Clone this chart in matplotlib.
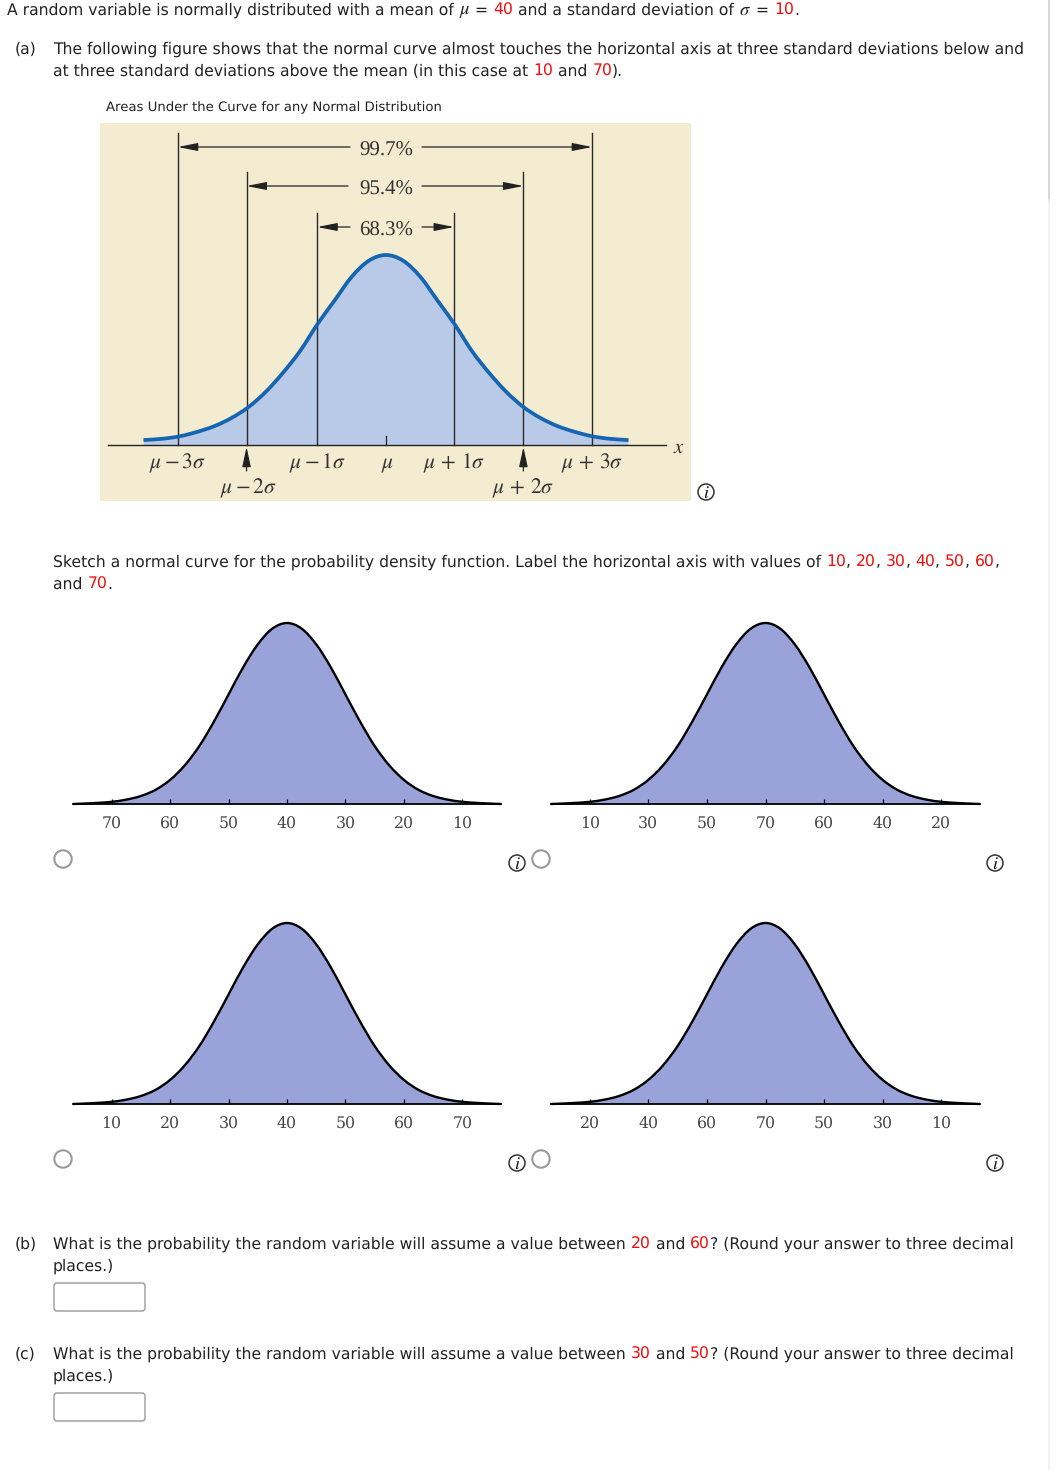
import matplotlib
matplotlib.use('Agg')
import matplotlib.pyplot as plt
from matplotlib.patches import Circle, FancyBboxPatch, PathPatch
from matplotlib.path import Path

W, H = 1062, 1470
plt.rcParams['mathtext.fontset'] = 'stix'
plt.rcParams['font.family'] = ['DejaVu Sans']
plt.rcParams['text.hinting'] = 'none'
plt.rcParams['text.hinting_factor'] = 8

# curve heights, as a share of the peak
fig_z = [-3.53, -3.25, -3.0, -2.75, -2.5, -2.25, -2.0, -1.75, -1.5, -1.25, -1.0, -0.75, -0.5, -0.25, 0.0,
         0.25, 0.5, 0.75, 1.0, 1.25, 1.5, 1.75, 2.0, 2.25, 2.5, 2.75, 3.0, 3.25, 3.53]
fig_h = [0.026, 0.033, 0.046, 0.069, 0.099, 0.142, 0.2, 0.28, 0.38, 0.495, 0.635, 0.76, 0.885, 0.97, 1.0,
         0.97, 0.885, 0.76, 0.635, 0.495, 0.38, 0.28, 0.2, 0.142, 0.099, 0.069, 0.046, 0.033, 0.026]

panel_z = [-3.66, -3.5, -3.25, -3.0, -2.75, -2.5, -2.25, -2.0, -1.75, -1.5, -1.25, -1.0, -0.75, -0.5, -0.25, 0.0,
           0.25, 0.5, 0.75, 1.0, 1.25, 1.5, 1.75, 2.0, 2.25, 2.5, 2.75, 3.0, 3.25, 3.5, 3.66]
panel_h = [0.0, 0.002, 0.006, 0.012, 0.024, 0.044, 0.078, 0.133, 0.213, 0.32, 0.455, 0.605, 0.755, 0.882, 0.969, 1.0,
           0.969, 0.882, 0.755, 0.605, 0.455, 0.32, 0.213, 0.133, 0.078, 0.044, 0.024, 0.012, 0.006, 0.002, 0.0]

# sigma lines and labels of the textbook figure
sigma_z = [-3.03, -2.03, -1.0, 0.99, 2.0, 3.0]
sigma_labels = ['$\\mu - 3\\sigma$', '$\\mu - 2\\sigma$', '$\\mu - 1\\sigma$', '$\\mu$',
                '$\\mu\\,+\\,1\\sigma$', '$\\mu\\,+\\,2\\sigma$', '$\\mu\\,+\\,3\\sigma$']
pct_labels = ['99.7%', '95.4%', '68.3%']

tick_z = [-3, -2, -1, 0, 1, 2, 3]
panel_labels = [[70, 60, 50, 40, 30, 20, 10],
                [10, 30, 50, 70, 60, 40, 20],
                [10, 20, 30, 40, 50, 60, 70],
                [20, 40, 60, 70, 50, 30, 10]]

RED = '#f01010'
INK = '#222222'
MU = '$\\mu$'
SIG = '$\\sigma$'
LINE_A = 'The following figure shows that the normal curve almost touches the horizontal axis at three standard deviations below and'
TITLE = 'Areas Under the Curve for any Normal Distribution'

fig = plt.figure(figsize=(W / 100, H / 100), dpi=100)
page = fig.add_axes([0, 0, 1, 1])
page.set_xlim(0, W)
page.set_ylim(H, 0)
page.axis('off')


def box_axes(x0, y0, x1, y1):
    return fig.add_axes([x0 / W, 1 - y1 / H, (x1 - x0) / W, (y1 - y0) / H])


def curve_path(xs, ys, close=False):
    # hermite segments through the read points, so the line has no kinks
    n = len(xs)
    slope = [(ys[min(i + 1, n - 1)] - ys[max(i - 1, 0)]) / (xs[min(i + 1, n - 1)] - xs[max(i - 1, 0)]) for i in range(n)]
    verts = [(xs[0], ys[0])]
    codes = [Path.MOVETO]
    for i in range(n - 1):
        d = (xs[i + 1] - xs[i]) / 3
        verts += [(xs[i] + d, ys[i] + slope[i] * d), (xs[i + 1] - d, ys[i + 1] - slope[i + 1] * d), (xs[i + 1], ys[i + 1])]
        codes += [Path.CURVE4] * 3
    if close:
        verts += [(xs[-1], 0), (xs[0], 0), (xs[0], ys[0])]
        codes += [Path.LINETO, Path.LINETO, Path.CLOSEPOLY]
    return Path(verts, codes)


def fit_size(s, target, lo, hi):
    # text widths jump with the size, so look for the size that gives the width
    r = fig.canvas.get_renderer()
    best, best_err = lo, 1e9
    size = lo
    while size <= hi:
        t = page.text(0, 0, s, fontsize=size)
        err = abs(t.get_window_extent(r).width - target)
        t.remove()
        if err < best_err:
            best, best_err = size, err
        size += 0.01
    return best


BODY = fit_size(LINE_A, 968, 10.6, 11.4)
SMALL = fit_size(TITLE, 336, 9.2, 10.0)


def runs(x, y, parts, size=None):
    # lay out coloured pieces of one line one after the other
    size = size or BODY
    r = fig.canvas.get_renderer()
    dot = page.text(0, 0, '.', fontsize=size)
    dw = dot.get_window_extent(r).width
    dot.remove()
    for s, c in parts:
        fs = size * 1.2 if s.startswith('$') else size
        page.text(x, y, s, fontsize=fs, color=c, va='baseline', ha='left')
        if s.startswith('$'):
            probe = page.text(0, 0, s, fontsize=fs)
            x += probe.get_window_extent(r).width
        else:
            probe = page.text(0, 0, s + '.', fontsize=fs)
            x += probe.get_window_extent(r).width - dw
        probe.remove()


def info(x, y):
    page.add_patch(Circle((x, y), 8, fc='white', ec='#333333', lw=1.1))
    page.text(x, y + 0.5, '$i$', fontsize=13, ha='center', va='center', color='#111111')


def radio(x, y):
    page.add_patch(Circle((x, y), 8.7, fc='white', ec='#9a9a9a', lw=1.5))


def answer_box(x0, y0, x1, y1):
    page.add_patch(FancyBboxPatch((x0 + 3, y0 + 3), x1 - x0 - 6, y1 - y0 - 6, boxstyle='round,pad=3',
                                  fc='white', ec='#9a9a9a', lw=1.0))


# page text
runs(7, 14.5, [('A random variable is normally distributed with a mean of ', INK), (MU, INK), (' = ', INK), ('40', RED),
               (' and a standard deviation of ', INK), (SIG, INK), (' = ', INK), ('10', RED), ('.', INK)])
runs(15, 53.5, [('(a)', INK)])
runs(53, 53.5, [(LINE_A, INK)])
runs(53, 75.5, [('at three standard deviations above the mean (in this case at ', INK), ('10', RED), (' and ', INK), ('70', RED), (').', INK)])
runs(106, 111, [(TITLE, INK)], size=SMALL)
runs(53, 566.5, [('Sketch a normal curve for the probability density function. Label the horizontal axis with values of ', INK),
                 ('10', RED), (', ', INK), ('20', RED), (', ', INK), ('30', RED), (', ', INK), ('40', RED), (', ', INK),
                 ('50', RED), (', ', INK), ('60', RED), (',', INK)])
runs(53, 588.5, [('and ', INK), ('70', RED), ('.', INK)])
runs(15, 1248.5, [('(b)', INK)])
runs(53, 1248.5, [('What is the probability the random variable will assume a value between ', INK), ('20', RED), (' and ', INK),
                  ('60', RED), ('? (Round your answer to three decimal', INK)])
runs(53, 1270.5, [('places.)', INK)])
runs(15, 1358.5, [('(c)', INK)])
runs(53, 1358.5, [('What is the probability the random variable will assume a value between ', INK), ('30', RED), (' and ', INK),
                  ('50', RED), ('? (Round your answer to three decimal', INK)])
runs(53, 1380.5, [('places.)', INK)])
answer_box(54, 1283, 145, 1311)
answer_box(54, 1393, 145, 1421)

# scrollbar edge
page.plot([1049, 1049], [0, 200], color='#cfcfcf', lw=1.2)
page.plot([1049, 1049], [200, H], color='#efefef', lw=1.2)

# textbook figure, x in sigmas and y in shares of the peak
FX0, FX1, FY0, FY1 = 100, 691, 123, 501
CX, SX, AY, PK = 386.0, 68.7, 445.0, 190.0


def fx(px):
    return (px - CX) / SX


def fy(py):
    return (AY - py) / PK


ax = box_axes(FX0, FY0, FX1, FY1)
ax.set_xlim(fx(FX0), fx(FX1))
ax.set_ylim(fy(FY1), fy(FY0))
ax.set_facecolor('#f3ecd0')
ax.set_xticks([])
ax.set_yticks([])
for sp in ax.spines.values():
    sp.set_visible(False)
ax.add_patch(PathPatch(curve_path(fig_z, fig_h, close=True), fc='#b9c9e8', lw=0))
tops = [133, 172, 213, 213, 172, 133]
for z, top in zip(sigma_z, tops):
    ax.plot([z, z], [0, fy(top)], color='#2a2a2a', lw=1.0)
ax.plot([fx(108), fx(666)], [0, 0], color='#222222', lw=1.0)
ax.plot([0, 0], [0, fy(436)], color='#222222', lw=0.9)
ax.add_patch(PathPatch(curve_path(fig_z, fig_h), fc='none', ec='#1565b0', lw=2.7, capstyle='butt', zorder=3))

serif = 'Liberation Serif'
rows = [(147, 350, 422), (186, 348, 422), (227, 350, 422)]
for i, (lab, (py, xl, xr)) in enumerate(zip(pct_labels, rows)):
    ax.text(0, fy(py + 3.6), lab, family=serif, fontsize=15, color='#333333', ha='center', va='center')
    for start, end in ((xl, sigma_z[i]), (xr, sigma_z[5 - i])):
        ax.annotate('', xy=(end, fy(py)), xytext=(fx(start), fy(py)),
                    arrowprops=dict(arrowstyle='-|>,head_length=1.2,head_width=0.24', color='#222222', lw=0.9,
                                    shrinkA=0, shrinkB=0))
for z in (sigma_z[1], sigma_z[4]):
    ax.annotate('', xy=(z, fy(447)), xytext=(z, fy(471)),
                arrowprops=dict(arrowstyle='-|>,head_length=1.2,head_width=0.26', color='#222222', lw=0.9,
                                shrinkA=0, shrinkB=0))
label_pos = [(-3.03, 463), (-2.0, 488), (-1.0, 463), (0.02, 463), (0.99, 463), (2.0, 488), (3.0, 463)]
for lab, (z, py) in zip(sigma_labels, label_pos):
    ax.text(z, fy(py), lab, fontsize=15.5, color='#333333', ha='center', va='center')
ax.text(fx(679), fy(447), '$x$', fontsize=15, color='#333333', ha='center', va='center')
info(706, 492)

# four answer choices
boxes = [(73, 501, 804), (551, 980, 804), (73, 501, 1104), (551, 980, 1104)]
radios = [(63, 859), (541, 859), (63, 1159), (541, 1159)]
infos = [(517, 863), (995, 863), (517, 1163), (995, 1163)]
for (x0, x1, base), labs, rad, inf in zip(boxes, panel_labels, radios, infos):
    a = box_axes(x0, base - 190, x1, base)
    a.set_xlim(panel_z[0], panel_z[-1])
    a.set_ylim(0, 190 / 181)
    a.patch.set_alpha(0)
    a.add_patch(PathPatch(curve_path(panel_z, panel_h, close=True), fc='#99a2d9', lw=0))
    a.add_patch(PathPatch(curve_path(panel_z, panel_h), fc='none', ec='black', lw=1.7, capstyle='butt', clip_on=False))
    for s in ('top', 'left', 'right'):
        a.spines[s].set_visible(False)
    a.spines['bottom'].set_linewidth(1.3)
    a.set_yticks([])
    a.set_xticks(tick_z)
    a.set_xticklabels(labs, family='DejaVu Serif', fontsize=11.3, color='#444444')
    a.tick_params(axis='x', direction='in', length=3.8, width=0.9, pad=9)
    radio(*rad)
    info(*inf)

fig.savefig('out.png', dpi=100)
